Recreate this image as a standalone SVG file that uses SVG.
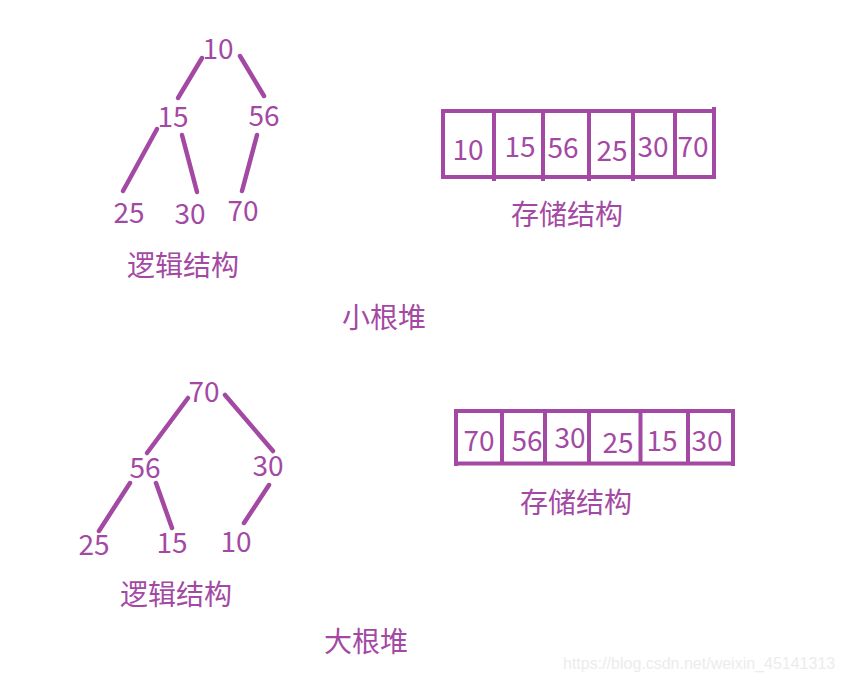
<svg xmlns="http://www.w3.org/2000/svg" width="844" height="681" viewBox="0 0 844 681">
<style>
.t{font-family:"Noto Sans CJK SC","Noto Sans",sans-serif;font-size:28px;fill:#A349A4;text-anchor:middle}
.e{stroke:#A349A4;stroke-width:4.5;stroke-linecap:round;fill:none}
.b{stroke:#A349A4;stroke-width:4;fill:none}
.w{font-family:"Liberation Sans",Arial,sans-serif;font-size:16px;fill:#ececec}
</style>
<rect width="844" height="681" fill="#fff"/>
<g id="edges">
<line class="e" x1="202" y1="58" x2="178" y2="98"/>
<line class="e" x1="240" y1="56" x2="264" y2="96"/>
<line class="e" x1="157" y1="129" x2="123" y2="191"/>
<line class="e" x1="182" y1="135" x2="197" y2="192"/>
<line class="e" x1="257" y1="135" x2="242" y2="191"/>
<line class="e" x1="188" y1="398" x2="147" y2="453"/>
<line class="e" x1="225" y1="395" x2="273" y2="451"/>
<line class="e" x1="130" y1="483" x2="99" y2="531"/>
<line class="e" x1="156" y1="483" x2="172" y2="528"/>
<line class="e" x1="269" y1="485" x2="244" y2="523"/>
</g>
<g id="min-heap-tree">
<g id="n10"><text class="t" x="218" y="59">10</text></g>
<g id="n15"><text class="t" x="173" y="127">15</text></g>
<g id="n56"><text class="t" x="264" y="126">56</text></g>
<g id="n25"><text class="t" x="129" y="223">25</text></g>
<g id="n30"><text class="t" x="190" y="224">30</text></g>
<g id="n70"><text class="t" x="243" y="221">70</text></g>
<text class="t" x="183" y="276">逻辑结构</text>
</g>
<g id="min-heap-array">
<path class="b" d="M443 111H714M443 177H714M443 109V179M494 111V181M543 111V181M589 111V181M633 111V181M675 111V179M714 107V179"/>
<text class="t" x="468" y="160">10</text>
<text class="t" x="520" y="157">15</text>
<text class="t" x="563" y="158">56</text>
<text class="t" x="612" y="161">25</text>
<text class="t" x="653" y="157">30</text>
<text class="t" x="693" y="157">70</text>
<text class="t" x="567" y="225">存储结构</text>
</g>
<g id="title-min"><text class="t" x="384" y="328">小根堆</text></g>
<g id="max-heap-tree">
<g id="m70"><text class="t" x="204" y="402">70</text></g>
<g id="m56"><text class="t" x="145" y="478">56</text></g>
<g id="m30"><text class="t" x="268" y="476">30</text></g>
<g id="m25"><text class="t" x="94" y="555">25</text></g>
<g id="m15"><text class="t" x="172" y="553">15</text></g>
<g id="m10"><text class="t" x="236" y="552">10</text></g>
<text class="t" x="176" y="605">逻辑结构</text>
</g>
<g id="max-heap-array">
<path class="b" d="M456 411H734M456 463.5H734M456 409V466M502 411V463M545 411V463M589 411V463M640.5 411V463M688 411V463M733 409V466"/>
<text class="t" x="479" y="451">70</text>
<text class="t" x="527" y="451">56</text>
<text class="t" x="570" y="448">30</text>
<text class="t" x="618" y="453">25</text>
<text class="t" x="662" y="451">15</text>
<text class="t" x="707" y="451">30</text>
<text class="t" x="576" y="513">存储结构</text>
</g>
<g id="title-max"><text class="t" x="366" y="652">大根堆</text></g>
<text class="w" x="563" y="669">https://blog.csdn.net/weixin_45141313</text>
</svg>
